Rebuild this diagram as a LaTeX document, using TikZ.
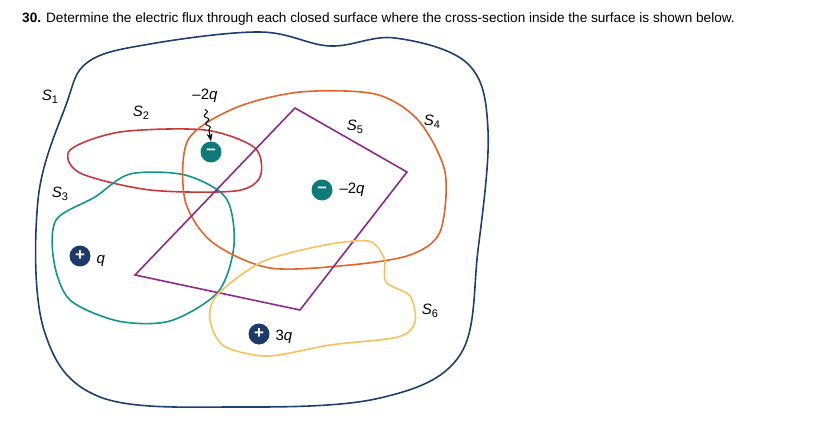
\documentclass[tikz,border=0pt]{standalone}
\usepackage{fontspec}
\setmainfont{Liberation Sans}
\usetikzlibrary{decorations.pathmorphing,arrows.meta}
\definecolor{sone}{HTML}{1F3F6E}
\definecolor{stwo}{HTML}{C8393B}
\definecolor{sthree}{HTML}{12948F}
\definecolor{sfour}{HTML}{E4632A}
\definecolor{sfive}{HTML}{8E2A8C}
\definecolor{ssix}{HTML}{F6C15B}
\definecolor{neg}{HTML}{0E7A7A}
\definecolor{pos}{HTML}{1D3A6B}
\newcommand{\Sl}[1]{\textit{S}\raisebox{-3pt}{\fontsize{11}{11}\selectfont #1}}
\tikzset{surf/.style={line width=1.6pt},
 lab/.style={font=\fontsize{15}{17}\selectfont},
 chg/.style={circle,minimum size=21pt,inner sep=0pt,text=white,font=\bfseries\fontsize{17}{17}\selectfont}}
\begin{document}
\begin{tikzpicture}[x=1pt,y=-1pt]
\useasboundingbox (0,0) rectangle (823,428);
\node[anchor=west,font=\fontsize{13.6}{15}\selectfont,inner sep=0pt] (t) at (22,19) {\textbf{30.} Determine the electric flux through each closed surface where the cross-section inside the surface is shown below.};
\draw[surf,sone] plot[smooth cycle,tension=0.6] coordinates {(88,62) (150,44) (260,32) (330,46) (395,38) (468,64) (488,130) (478,250) (460,355) (380,398) (240,407) (100,397) (44,330) (38,200) (66,105)};
\draw[surf,stwo] plot[smooth cycle] coordinates {(70,150) (120,132) (205,130) (255,148) (260,177) (235,191) (150,190) (80,173)};
\draw[surf,sthree] plot[smooth cycle] coordinates {(56,220) (95,197) (130,174) (185,175) (226,198) (234,245) (218,292) (170,321) (118,321) (70,300) (54,262)};
\draw[surf,sfour] plot[smooth cycle] coordinates {(188,140) (235,108) (300,92) (375,94) (418,120) (445,172) (440,232) (410,255) (350,265) (270,268) (212,242) (185,200)};
\draw[surf,sfive] (295,108) -- (407,172) -- (300,310) -- (135,275) -- cycle;
\draw[surf,ssix] plot[smooth cycle] coordinates {(217,295) (262,262) (320,246) (368,241) (384,258) (386,282) (410,296) (415,322) (398,337) (330,345) (268,356) (224,346) (210,320)};
\node[chg,fill=neg] (m1) at (211,152) {\raisebox{1pt}{–}};
\node[chg,fill=neg] (m2) at (322,190) {\raisebox{1pt}{–}};
\node[chg,fill=pos] (p1) at (80,256) {+};
\node[chg,fill=pos] (p2) at (259,334) {+};
\node[lab] (l1) at (205,96) {–2\textit{q}};
\node[lab,anchor=west] (l2) at (336,190) {–2\textit{q}};
\node[lab,anchor=west] (l3) at (93,261) {\textit{q}};
\node[lab,anchor=west] (l4) at (272,337) {3\textit{q}};
\draw[line width=1pt,-{Stealth[length=8pt]},decorate,decoration={snake,amplitude=2pt,segment length=8pt,post length=8pt}] (l1.south) ++(0,3) -- (m1.north);
\node[lab] at (50,97) {\Sl{1}};
\node[lab] at (141,113) {\Sl{2}};
\node[lab] at (60,194) {\Sl{3}};
\node[lab] at (432,122) {\Sl{4}};
\node[lab] at (355,127) {\Sl{5}};
\node[lab] at (430,311) {\Sl{6}};
\end{tikzpicture}
\end{document}
